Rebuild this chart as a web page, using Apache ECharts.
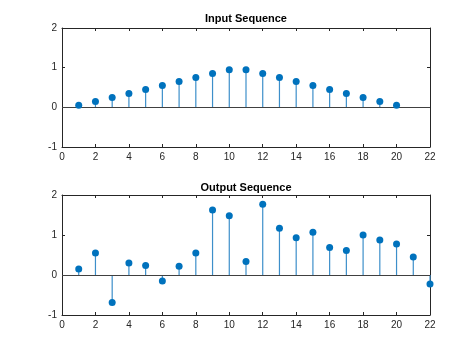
<!DOCTYPE html>
<html>
<head>
<meta charset="utf-8">
<script src="https://cdn.jsdelivr.net/npm/echarts@6/dist/echarts.min.js"></script>
<style>html,body{margin:0;padding:0;background:#fff}#c{width:474px;height:355px}</style>
</head>
<body>
<div id="c"></div>
<script>
var inputN = [1,2,3,4,5,6,7,8,9,10,11,12,13,14,15,16,17,18,19,20];
var inputValues = [0.05,0.15,0.25,0.35,0.45,0.55,0.65,0.75,0.85,0.95,0.95,0.85,0.75,0.65,0.55,0.45,0.35,0.25,0.15,0.05];
var outputN = [1,2,3,4,5,6,7,8,9,10,11,12,13,14,15,16,17,18,19,20,21,22];
var outputValues = [0.15,0.55,-0.69,0.30,0.24,-0.15,0.22,0.55,1.625,1.48,0.34,1.77,1.17,0.93,1.07,0.69,0.61,1.0,0.875,0.775,0.45,-0.225];
var xTicks = {min:0, max:22, interval:2};
var yTicks = {min:-1, max:2, interval:1};
var titles = ['Input Sequence','Output Sequence'];

var axisColor = '#262626';
var stemColor = '#0072BD';
var font = 'Liberation Sans, Arial, Helvetica, sans-serif';

function pairs(xs, ys){ return xs.map(function(x,i){ return [x, ys[i]]; }); }

function xAx(grid, pos, labels){
  return {type:'value', gridIndex:grid, position:pos, min:xTicks.min, max:xTicks.max, interval:xTicks.interval,
    axisLine:{show:true, onZero:false, lineStyle:{color:axisColor, width:1}},
    axisTick:{show:true, inside:true, length:3, lineStyle:{color:axisColor}},
    axisLabel:{show:labels, color:axisColor, fontSize:10, fontFamily:font, margin:5},
    splitLine:{show:false}};
}
function yAx(grid, pos, labels){
  return {type:'value', gridIndex:grid, position:pos, min:yTicks.min, max:yTicks.max, interval:yTicks.interval,
    axisLine:{show:true, onZero:false, lineStyle:{color:axisColor, width:1}},
    axisTick:{show:true, inside:true, length:3, lineStyle:{color:axisColor}},
    axisLabel:{show:labels, color:axisColor, fontSize:10, fontFamily:font, margin:5},
    splitLine:{show:false}};
}
function stems(xi, yi, data){
  return [{
    type:'bar', xAxisIndex:xi, yAxisIndex:yi, data:data, barWidth:1.2,
    itemStyle:{color:'#3d8fca'}, silent:true, animation:false
  },{
    type:'scatter', xAxisIndex:xi, yAxisIndex:yi, data:data, symbol:'circle', symbolSize:7,
    itemStyle:{color:stemColor, opacity:1}, silent:true, animation:false, z:5,
    markLine:{silent:true, symbol:'none', animation:false, label:{show:false},
      lineStyle:{color:'#404040', width:1, type:'solid'}, data:[{yAxis:0}]}
  }];
}

var chart = echarts.init(document.getElementById('c'), null, {renderer:'canvas'});
chart.setOption({
  animation:false,
  backgroundColor:'#fff',
  grid:[
    {left:62, top:28, width:368, height:119},
    {left:62, top:195, width:368, height:120}
  ],
  xAxis:[xAx(0,'bottom',true), xAx(0,'top',false), xAx(1,'bottom',true), xAx(1,'top',false)],
  yAxis:[yAx(0,'left',true), yAx(0,'right',false), yAx(1,'left',true), yAx(1,'right',false)],
  graphic:[
    {type:'text', x:246, y:13, style:{text:titles[0], textAlign:'center', fill:'#000', font:'bold 11px '+font}},
    {type:'text', x:246, y:182, style:{text:titles[1], textAlign:'center', fill:'#000', font:'bold 11px '+font}}
  ],
  series: stems(0,0,pairs(inputN,inputValues)).concat(stems(2,2,pairs(outputN,outputValues)))
});
</script>
</body>
</html>
